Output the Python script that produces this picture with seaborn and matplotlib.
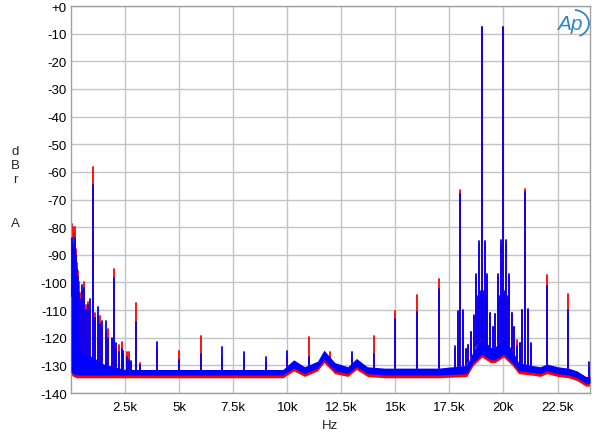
import matplotlib
matplotlib.use("Agg")
import matplotlib.pyplot as plt
from matplotlib.patches import Arc
import numpy as np
import pandas as pd
import seaborn as sns

# Noise floor (Hz, dB upper / lower edge of each trace)
floor_freq = [0, 100, 250, 500, 1000, 1500, 2000, 2500, 3000, 5000, 8000, 9800,
              10300, 10800, 11400, 11700, 12200, 12800, 13200, 13700, 14500, 17000,
              18300, 18600, 19000, 19400, 19600, 20000, 20400, 20700, 21300, 21700,
              22000, 22500, 23000, 23400, 23800, 24000]
floor_blue_hi = [-100, -112, -120, -125, -127, -129.5, -130.5, -131.5, -131.5, -131.5, -131.5, -131.5,
                 -128, -130.5, -128.5, -124.5, -129, -130.5, -127.5, -130.5, -131, -131,
                 -130, -125, -120, -123.5, -123.5, -120, -124.5, -129, -130, -130.5,
                 -129.5, -130.5, -131, -132, -134, -134]
floor_blue_lo = [-132.5, -133, -133.5, -133.5, -133.5, -133.5, -133.5, -133.5, -133.5, -133.5, -133.5, -133.5,
                 -131, -133, -131, -128, -132, -133, -130.5, -133, -133.5, -133.5,
                 -133, -129, -126, -128, -128, -126, -129, -132, -132.5, -133,
                 -132, -133, -133.5, -134.5, -136.5, -136.5]
floor_red_hi = [-102, -114, -122, -127, -129, -131, -132, -133, -133, -133, -133, -133,
                -129.5, -132, -130, -126.5, -130.5, -132, -129, -132, -132.5, -132.5,
                -131.5, -127, -122, -125.5, -125.5, -122, -126.5, -130.5, -131.5, -132,
                -131, -132, -132.5, -133.5, -135.5, -135.5]
floor_red_lo = [-133.5, -134, -134.5, -134.5, -134.5, -134.5, -134.5, -134.5, -134.5, -134.5, -134.5, -134.5,
                -132, -134, -132, -129, -133, -134, -131.5, -134, -134.5, -134.5,
                -134, -130, -127, -129, -129, -127, -130, -133, -133.5, -134,
                -133, -134, -134.5, -135.5, -137.5, -137.5]

# Discrete spectral lines (Hz) and their peak levels (dB) for each channel
spike_freq = [40, 90, 150, 190, 240, 290, 340, 390, 450, 520, 610, 680, 770, 870,
              1000, 1110, 1230, 1340, 1440, 1600, 1730, 1880, 2000, 2100, 2230, 2340,
              2420, 2570, 2680, 2770, 3000, 3200, 4000, 5000, 6000, 7000, 8000, 9000,
              10000, 11000, 12000, 13000, 14000, 15000, 16000, 17000,
              17750, 17875, 18000, 18125, 18250, 18375, 18500, 18625, 18750, 18810,
              18875, 18940, 19000, 19060, 19125, 19190, 19250, 19375, 19500, 19625,
              19750, 19810, 19875, 19940, 20000, 20060, 20125, 20190, 20250, 20375,
              20500, 20625, 20750, 20875, 21000, 21125, 21250, 22000, 23000, 23950]
spike_red = [-79, -80, -82, -80, -88, -93, -96, -100, -104, -103, -100, -108, -107, -110,
             -58.4, -111, -112, -112, -116, -118, -117, -121, -95.2, -124, -122.6, -121.4,
             -126, -125, -125, -129, -107.6, -129, -124, -124.7, -119.3, -127, -128, -129,
             -127, -119.9, -125, -127, -119.5, -110.5, -104.6, -98.8,
             -124, -111, -66.6, -111, -124, -122.5, -118, -111.7, -98, -106,
             -86, -104, -7.5, -104, -86, -106, -98, -111, -116, -111.3,
             -98, -106, -86, -104, -7.5, -104, -86, -106, -98, -111,
             -116, -121, -122, -110, -66.2, -110, -123, -97.3, -104.2, -131]
spike_blue = [-84, -86, -88, -84, -90, -95, -98, -104, -106, -101, -102, -110, -108, -106,
              -64.8, -113, -109, -115, -114, -114, -120, -120, -98.5, -122, -125, -124,
              -124.7, -127, -128, -128.3, -114.4, -130, -121.7, -128, -126, -123.3, -125.3, -127.1,
              -124.7, -127, -128, -125, -126, -113.2, -110.8, -102.4,
              -122.9, -110.5, -68, -110, -124, -122.5, -118, -112, -97, -105,
              -84.9, -103, -7.5, -103, -84.9, -105, -97, -111, -116, -111.3,
              -97, -105, -84.5, -103, -7.5, -103, -84.5, -105, -97, -111,
              -116, -123, -122, -110, -67.4, -109.5, -122, -101.2, -109.9, -128.9]

y_ticks = list(range(-140, 1, 10))
y_tick_labels = [str(v) for v in y_ticks[:-1]] + ["+0"]
x_ticks = [2500, 5000, 7500, 10000, 12500, 15000, 17500, 20000, 22500]
x_tick_labels = ["2.5k", "5k", "7.5k", "10k", "12.5k", "15k", "17.5k", "20k", "22.5k"]

RED = "#ff0000"
BLUE = "#0000ff"


def spike_frame(peaks, floor_hi):
    # Each line runs from the noise floor up to its peak
    base = np.interp(spike_freq, floor_freq, floor_hi)
    rows = []
    for i, (f, b, p) in enumerate(zip(spike_freq, base, peaks)):
        rows.append({"id": i, "Hz": f, "dB": b})
        rows.append({"id": i, "Hz": f, "dB": p})
    return pd.DataFrame(rows)


sns.set_style("white")
plt.rcParams["font.family"] = ["Liberation Sans", "DejaVu Sans"]

fig = plt.figure(figsize=(6.0, 4.39), dpi=100)
ax = fig.add_axes([0.1183, 0.1025, 0.865, 0.8815])

# red channel first (underneath), blue channel drawn over it
for hi, lo, peaks, col, z in [(floor_red_hi, floor_red_lo, spike_red, RED, 2),
                              (floor_blue_hi, floor_blue_lo, spike_blue, BLUE, 4)]:
    ax.fill_between(floor_freq, lo, hi, color=col, lw=0, zorder=z)
    sns.lineplot(data=spike_frame(peaks, hi), x="Hz", y="dB", units="id",
                 estimator=None, color=col, lw=1.3, ax=ax, zorder=z + 0.5, legend=False)

ax.set_xlim(0, 24000)
ax.set_ylim(-140, 0)
ax.set_xticks(x_ticks)
ax.set_xticklabels(x_tick_labels)
ax.set_yticks(y_ticks)
ax.set_yticklabels(y_tick_labels)
ax.set_xticks(np.arange(0, 24001, 250), minor=True)
ax.set_yticks(np.arange(-140, 1, 2), minor=True)
ax.grid(True, which="major", color="#c4c4c4", lw=1.0, zorder=1)
ax.tick_params(axis="both", which="major", length=0, labelsize=9.5, pad=3, colors="black")
ax.tick_params(axis="x", which="minor", direction="in", length=14, width=0.8, color="#c8c8c8")
ax.tick_params(axis="y", which="minor", direction="in", length=5, width=0.8, color="#c8c8c8")
ax.tick_params(axis="x", which="major", pad=6)
for s in ax.spines.values():
    s.set_color("#a0a0a0")
    s.set_linewidth(1.0)

ax.set_xlabel("Hz", fontsize=9.5, labelpad=4)
ax.set_ylabel("")
fig.text(0.025, 0.668, "d\nB\nr", fontsize=9.5, ha="center", va="top", linespacing=1.25)
fig.text(0.025, 0.49, "A", fontsize=9.5, ha="center", va="center")

# AP logo
ax.text(0.962, 0.955, "Ap", transform=ax.transAxes, fontsize=15, style="italic",
        color="#2f86c6", ha="center", va="center", zorder=6)
ax.add_patch(Arc((0.968, 0.955), 0.06, 0.07, theta1=-70, theta2=85,
                 transform=ax.transAxes, color="#2f86c6", lw=1.3, zorder=6))

fig.savefig("out.png", dpi=100)
